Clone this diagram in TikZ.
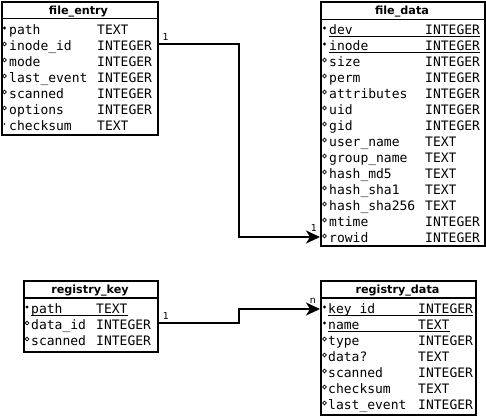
\documentclass[tikz,border=0pt]{standalone}
\usepackage{fontspec}
\setmainfont{DejaVu Sans}
\newfontfamily\monof{DejaVu Sans Mono}
\usetikzlibrary{arrows.meta,calc}
\begin{document}
\begin{tikzpicture}[x=1pt,y=-1pt,
  tbl/.style={draw, line width=1.7pt, inner sep=0pt, anchor=north west},
  sepline/.style={line width=1.7pt},
  hdr/.style={font=\fontsize{11.2}{13}\selectfont\bfseries, anchor=base, inner sep=0pt},
  rowtxt/.style={font=\monof\fontsize{13}{15}\selectfont, anchor=base west, inner sep=0pt},
  pk/.style={circle, fill=black, inner sep=0pt, minimum size=3.4pt},
  fk/.style={circle, draw=black, line width=0.7pt, inner sep=0pt, minimum size=3.6pt},
  dt/.style={circle, fill=black, inner sep=0pt, minimum size=1.8pt},
  ul/.style={line width=1pt},
  arr/.style={line width=1.9pt, -{Stealth[length=14pt,width=13pt,inset=4pt]}},
  lbl/.style={font=\fontsize{9.5}{11}\selectfont, inner sep=0pt}]
\useasboundingbox (0,0) rectangle (486,415);

% ---------- file_entry ----------
\node[tbl, minimum width=156pt, minimum height=133pt] (fe) at (0.8,0.8) {};
\node[hdr] (fe-h) at (78.5,14) {file\_entry};
\draw[sepline] (fe.west |- 0,18.5) -- (fe.east |- 0,18.5);
\foreach \n/\t/\b [count=\i from 0] in {path/TEXT/pk, inode\_id/INTEGER/fk, mode/INTEGER/fk, last\_event/INTEGER/fk, scanned/INTEGER/fk, options/INTEGER/fk, checksum/TEXT/dt}{
  \coordinate (fe-r\i) at (0,30+16*\i);
  \node[rowtxt] (fe-n\i) at (9,34+16*\i) {\n};
  \node[rowtxt] (fe-t\i) at (97,34+16*\i) {\t};
  \node[\b] (fe-b\i) at (4.5,28+16*\i) {};
}

% ---------- file_data ----------
\node[tbl, minimum width=164pt, minimum height=244pt] (fd) at (320,0.8) {};
\node[hdr] (fd-h) at (402,14) {file\_data};
\draw[sepline] (fd.west |- 0,19.5) -- (fd.east |- 0,19.5);
\foreach \n/\t/\b [count=\i from 0] in {dev/INTEGER/pk, inode/INTEGER/pk, size/INTEGER/fk, perm/INTEGER/fk, attributes/INTEGER/fk, uid/INTEGER/fk, gid/INTEGER/fk, user\_name/TEXT/fk, group\_name/TEXT/fk, hash\_md5/TEXT/fk, hash\_sha1/TEXT/fk, hash\_sha256/TEXT/fk, mtime/INTEGER/fk, rowid/INTEGER/fk}{
  \coordinate (fd-r\i) at (0,30+16*\i);
  \node[rowtxt] (fd-n\i) at (329,34+16*\i) {\n};
  \node[rowtxt] (fd-t\i) at (425,34+16*\i) {\t};
  \node[\b] (fd-b\i) at (324.5,28+16*\i) {};
}
\draw[ul] ([yshift=-2pt]fd-n0.base west) -- ([yshift=-2pt]fd-t0.base east);
\draw[ul] ([yshift=-2pt]fd-n1.base west) -- ([yshift=-2pt]fd-t1.base east);

% ---------- registry_key ----------
\node[tbl, minimum width=134pt, minimum height=71pt] (rk) at (23,280) {};
\node[hdr] (rk-h) at (90,293) {registry\_key};
\draw[sepline] (rk.west |- 0,298) -- (rk.east |- 0,298);
\foreach \n/\t/\b [count=\i from 0] in {path/TEXT/pk, data\_id/INTEGER/fk, scanned/INTEGER/fk}{
  \coordinate (rk-r\i) at (0,309+16*\i);
  \node[rowtxt] (rk-n\i) at (31,313+16*\i) {\n};
  \node[rowtxt] (rk-t\i) at (96,313+16*\i) {\t};
  \node[\b] (rk-b\i) at (27,307+16*\i) {};
}
\draw[ul] ([yshift=-2pt]rk-n0.base west) -- ([yshift=-2pt]rk-t0.base east);

% ---------- registry_data ----------
\node[tbl, minimum width=155pt, minimum height=134pt] (rd) at (320,280) {};
\node[hdr] (rd-h) at (397.5,293) {registry\_data};
\draw[sepline] (rd.west |- 0,298) -- (rd.east |- 0,298);
\foreach \n/\t/\b [count=\i from 0] in {key\_id/INTEGER/pk, name/TEXT/pk, type/INTEGER/fk, data?/TEXT/fk, scanned/INTEGER/fk, checksum/TEXT/fk, last\_event/INTEGER/fk}{
  \coordinate (rd-r\i) at (0,309+16*\i);
  \node[rowtxt] (rd-n\i) at (328,313+16*\i) {\n};
  \node[rowtxt] (rd-t\i) at (418,313+16*\i) {\t};
  \node[\b] (rd-b\i) at (324.5,307+16*\i) {};
}
\draw[ul] ([yshift=-2pt]rd-n0.base west) -- ([yshift=-2pt]rd-t0.base east);
\draw[ul] ([yshift=-2pt]rd-n1.base west) -- ([yshift=-2pt]rd-t1.base east);

% ---------- connectors ----------
\coordinate (A1) at ($(fe.east |- fe-r1)+(0,-2)$);
\coordinate (B1) at ($(fd.west |- fd-r13)+(0,-1)$);
\draw[arr] (A1) -| ($(A1)!0.5!(B1)$) |- (B1);
\node[lbl, anchor=south west] (l1a) at ($(A1)+(4,-3)$) {1};
\node[lbl, anchor=south east] (l1b) at ($(B1)+(-3,-5)$) {1};

\coordinate (A2) at ($(rk.east |- rk-r1)+(0,-2)$);
\coordinate (B2) at ($(rd.west |- rd-r0)$);
\draw[arr] (A2) -| ($(A2)!0.5!(B2)$) |- (B2);
\node[lbl, anchor=south west] (l2a) at ($(A2)+(4,-3)$) {1};
\node[lbl, anchor=south east] (l2b) at ($(B2)+(-4,-5)$) {n};
\end{tikzpicture}
\end{document}
